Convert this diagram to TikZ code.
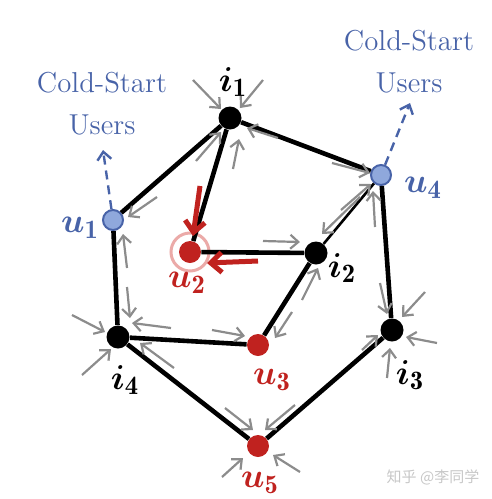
\documentclass[tikz,border=0pt]{standalone}
\usepackage{amsmath,amssymb,bm}
\usepackage{fontspec}
\newfontfamily\zhfont{Noto Sans CJK SC}
\usetikzlibrary{arrows.meta}

\definecolor{ured}{HTML}{C0221F}
\definecolor{ublue}{HTML}{4863A8}
\definecolor{ufill}{HTML}{8FA8DC}
\definecolor{uring}{HTML}{EBAAA8}
\definecolor{msggray}{HTML}{8C8C8C}

\tikzset{
	item/.style={circle,fill=black,inner sep=0pt,minimum size=11.5pt},
	user/.style={circle,fill=ured,inner sep=0pt,minimum size=11pt},
	cold/.style={circle,draw=ublue,fill=ufill,line width=1pt,inner sep=0pt,minimum size=10pt},
	link/.style={line width=2.3pt},
	msg/.style={-{Straight Barb[length=4pt,width=7pt]},msggray,line width=1.1pt},
	hit/.style={-{Straight Barb[length=5.5pt,width=10pt]},ured,line width=2.5pt},
	toward/.style={-{Straight Barb[length=4pt,width=7pt]},ublue,line width=1.2pt,dash pattern=on 4.5pt off 3pt},
	lab/.style={font=\fontsize{19}{19}\selectfont,inner sep=0pt},
	coldtxt/.style={font=\fontsize{14.4}{21}\selectfont,text=ublue,align=center,inner sep=0pt},
	wm/.style={font=\zhfont\fontsize{7.5}{8}\selectfont,text=black!22,inner sep=0pt}
}

\begin{document}
\begin{tikzpicture}[x=0.5pt,y=-0.5pt]
	\useasboundingbox (0,0) rectangle (492,499);
	% items
	\node[item] (i1) at (230,118) {};
	\node[item] (i2) at (316,253) {};
	\node[item] (i3) at (392,330) {};
	\node[item] (i4) at (118,337) {};
	% users
	\node[cold] (u1) at (113,220) {};
	\node[circle,draw=uring,line width=1.5pt,minimum size=19pt,inner sep=0pt] (ring) at (190,252) {};
	\node[user] (u2) at (190,252) {};
	\node[user] (u3) at (258,345) {};
	\node[cold] (u4) at (381,175) {};
	\node[user] (u5) at (258,446) {};
	
	% interactions
	\draw[link] (i1) -- (u1);
	\draw[link] (i1) -- (u2);
	\draw[link] (i1) -- (u4);
	\draw[link] (u1) -- (i4);
	\draw[link] (u2) -- (i2);
	\draw[link] (i2) -- (u3);
	\draw[link] (i4) -- (u3);
	\draw[link] (i4) -- (u5);
	\draw[link] (u5) -- (i3);
	\draw[link] (u4) -- (i3);
	\draw[line width=1.3pt] (u4) -- (i2);
	
	% messages
	\foreach \xa/\ya/\xb/\yb in {193/80/221/109, 263/80/240/108, 196/161/221/132, 233/169/239/139, 278/138/247/128,
			157/197/128/217, 127/268/123/234,
			127/287/130/318, 171/328/132/323, 174/368/140/343, 72/315/105/332, 82/375/111/349,
			212/330/245/336, 292/312/275/338,
			263/241/300/242, 302/300/318/268, 360/197/322/234,
			332/163/370/173, 341/210/371/184, 375/227/373/191,
			380/283/387/314, 425/292/402/317, 437/343/406/337, 387/378/390/348, 362/350/378/335,
			225/408/253/430, 295/405/265/430, 222/477/243/458, 300/472/273/455}
		\draw[msg] (\xa,\ya) -- (\xb,\yb);
	
	% target user
	\draw[hit] (200,186) -- (193,236);
	\draw[hit] (258,261) -- (207,263);
	
	% labels
	\node[lab] (li1) at (233,82) {$\bm{i}_{\mathbf{1}}$};
	\node[lab] (li2) at (342,268) {$\bm{i}_{\mathbf{2}}$};
	\node[lab] (li3) at (410,375) {$\bm{i}_{\mathbf{3}}$};
	\node[lab] (li4) at (125,380) {$\bm{i}_{\mathbf{4}}$};
	\node[lab,text=ublue] (lu1) at (80,228) {$\bm{u}_{\mathbf{1}}$};
	\node[lab,text=ured] (lu2) at (187,283) {$\bm{u}_{\mathbf{2}}$};
	\node[lab,text=ured] (lu3) at (272,380) {$\bm{u}_{\mathbf{3}}$};
	\node[lab,text=ublue] (lu4) at (423,188) {$\bm{u}_{\mathbf{4}}$};
	\node[lab,text=ured] (lu5) at (260,483) {$\bm{u}_{\mathbf{5}}$};
	
	% cold-start users
	\node[coldtxt] (cs1) at (102,104) {Cold-Start\\Users};
	\node[coldtxt] (cs4) at (409,62) {Cold-Start\\Users};
	\coordinate (t1) at (103,150);
	\coordinate (t4) at (410,103);
	\draw[toward] (u1) -- (t1);
	\draw[toward] (u4) -- (t4);
	
	\node[wm] (wm) at (433,477) {知乎 @李同学};
\end{tikzpicture}
\end{document}
